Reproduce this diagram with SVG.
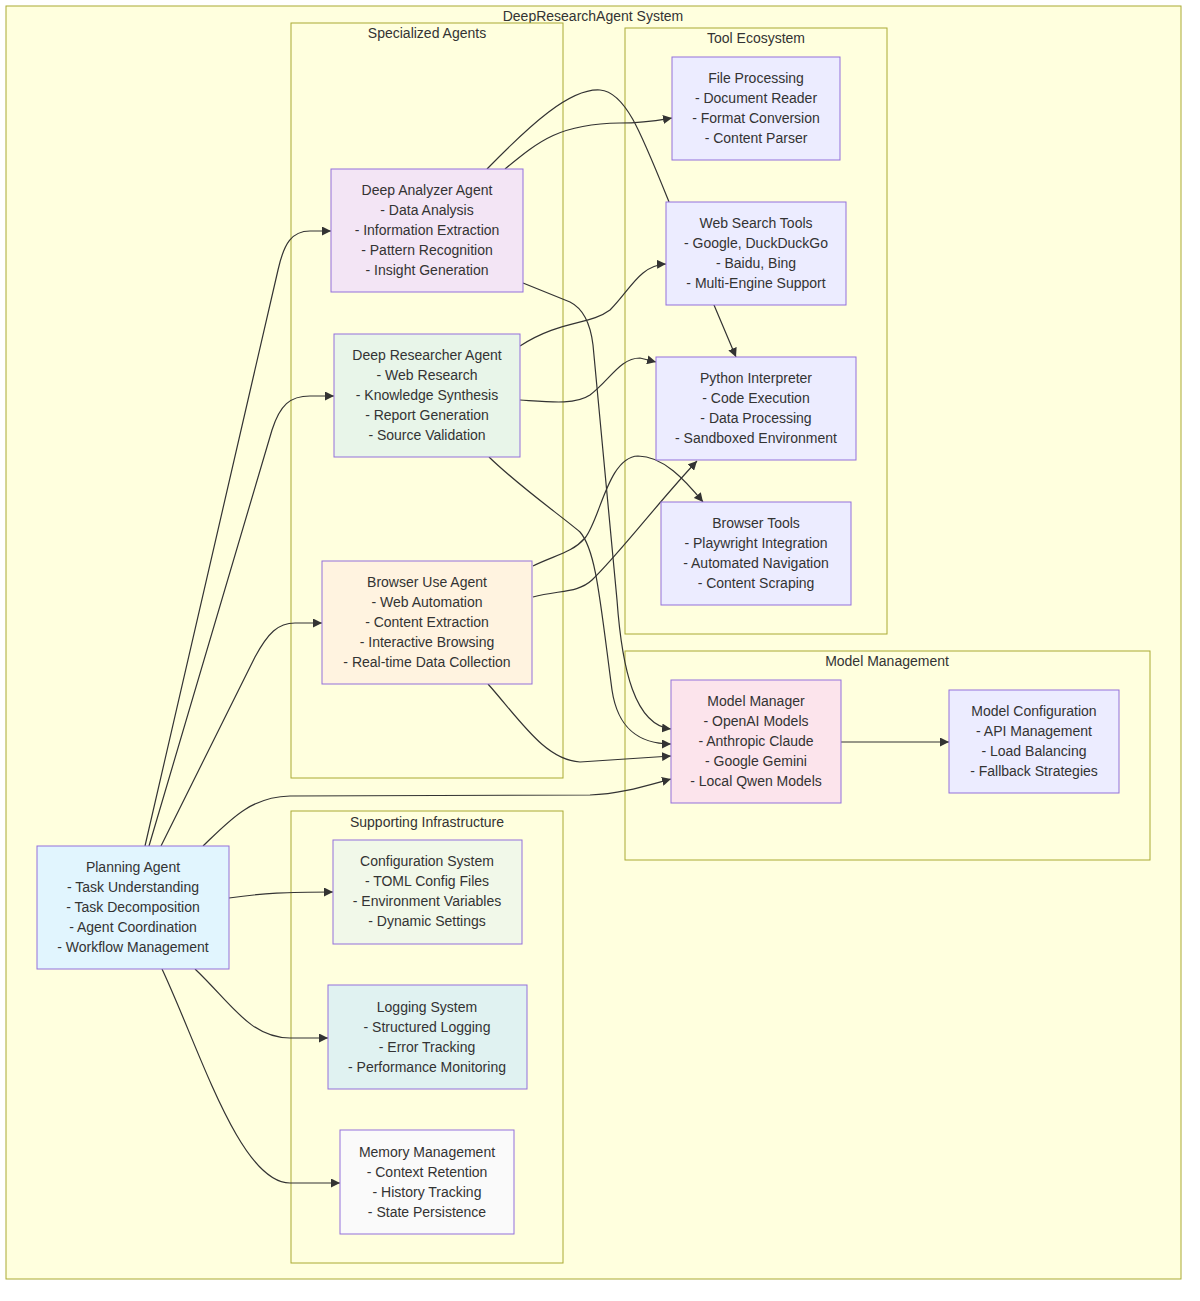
<svg xmlns="http://www.w3.org/2000/svg" width="1200" height="1301" viewBox="0 0 1200 1301">
<defs>
<marker id="arr" viewBox="0 0 10 10" refX="10" refY="5" markerWidth="9" markerHeight="9" markerUnits="userSpaceOnUse" orient="auto">
<path d="M0,0 L10,5 L0,10 z" fill="#333333"/>
</marker>
</defs>
<style>
.cl{fill:#ffffde;stroke:#aaaa33;stroke-width:1}
.nd{stroke:#9370db;stroke-width:1}
.def{fill:#ececff}
text{font-family:"Liberation Sans",Arial,sans-serif;font-size:14px;fill:#333333;text-anchor:middle;dominant-baseline:central}
.ea{fill:none;stroke:#333333;stroke-width:1.2;marker-end:url(#arr)}
</style>
<rect width="1200" height="1301" fill="#ffffff"/>
<g id="clusters">
<rect class="cl" x="6" y="6" width="1175" height="1273"/>
<text x="593" y="16">DeepResearchAgent System</text>
<rect class="cl" x="291" y="23" width="272" height="755"/>
<text x="427" y="33">Specialized Agents</text>
<rect class="cl" x="625" y="28" width="262" height="606"/>
<text x="756" y="38">Tool Ecosystem</text>
<rect class="cl" x="625" y="651" width="525" height="209"/>
<text x="887" y="661">Model Management</text>
<rect class="cl" x="291" y="811" width="272" height="452"/>
<text x="427" y="822">Supporting Infrastructure</text>
</g>
<g id="connectors">
<path class="ea" d="M145,846 L278,270 C284,243 292,231 310,231 L331,231"/>
<path class="ea" d="M149,846 L272,430 C280,405 290,396 310,396 L334,396"/>
<path class="ea" d="M161,846 L255,657 C268,633 278,623 295,623 L322,623"/>
<path class="ea" d="M203,846 C230,820 250,797 290,796 L590,795 C620,794 645,786 671,779"/>
<path class="ea" d="M229,898 C265,893 285,892 333,892"/>
<path class="ea" d="M195,969 C230,1002 250,1038 290,1038 L328,1038"/>
<path class="ea" d="M162,969 C200,1050 240,1183 290,1183 L340,1183"/>
<path class="ea" d="M505,169 C540,140 560,124 620,123 C645,123 660,120 672,118"/>
<path class="ea" d="M487,169 C530,125 570,88 600,90 C625,92 640,130 669,202 L714,305 L736,357"/>
<path class="ea" d="M523,283 L570,302 C582,308 590,320 593,345 L617,600 C622,670 635,725 671,729"/>
<path class="ea" d="M489,457 C520,487 560,515 580,532 C596,550 600,600 612,690 C618,730 640,744 671,744"/>
<path class="ea" d="M520,346 C560,320 590,325 610,310 C630,290 640,265 666,264"/>
<path class="ea" d="M520,400 C550,402 575,405 590,395 C610,380 620,358 640,358 L656,362"/>
<path class="ea" d="M533,566 C555,555 572,553 585,538 C600,520 608,457 638,456 C663,456 685,480 703,502"/>
<path class="ea" d="M533,597 C560,590 578,593 592,580 C620,553 660,500 697,461"/>
<path class="ea" d="M488,684 C520,720 545,760 580,762 L671,756"/>
<path class="ea" d="M841,742 L949,742"/>
</g>
<g id="deep-analyzer">
<rect class="nd" fill="#f3e5f5" x="331" y="169" width="192" height="123"/>
<text x="427" y="190">Deep Analyzer Agent</text>
<text x="427" y="210">- Data Analysis</text>
<text x="427" y="230">- Information Extraction</text>
<text x="427" y="250">- Pattern Recognition</text>
<text x="427" y="270">- Insight Generation</text>
</g>
<g id="deep-researcher">
<rect class="nd" fill="#e8f5e9" x="334" y="334" width="186" height="123"/>
<text x="427" y="355">Deep Researcher Agent</text>
<text x="427" y="375">- Web Research</text>
<text x="427" y="395">- Knowledge Synthesis</text>
<text x="427" y="415">- Report Generation</text>
<text x="427" y="435">- Source Validation</text>
</g>
<g id="browser-use">
<rect class="nd" fill="#fff3e0" x="322" y="561" width="210" height="123"/>
<text x="427" y="582">Browser Use Agent</text>
<text x="427" y="602">- Web Automation</text>
<text x="427" y="622">- Content Extraction</text>
<text x="427" y="642">- Interactive Browsing</text>
<text x="427" y="662">- Real-time Data Collection</text>
</g>
<g id="file-processing">
<rect class="nd def" x="672" y="57" width="168" height="103"/>
<text x="756" y="78">File Processing</text>
<text x="756" y="98">- Document Reader</text>
<text x="756" y="118">- Format Conversion</text>
<text x="756" y="138">- Content Parser</text>
</g>
<g id="web-search">
<rect class="nd def" x="666" y="202" width="180" height="103"/>
<text x="756" y="223">Web Search Tools</text>
<text x="756" y="243">- Google, DuckDuckGo</text>
<text x="756" y="263">- Baidu, Bing</text>
<text x="756" y="283">- Multi-Engine Support</text>
</g>
<g id="python-interpreter">
<rect class="nd def" x="656" y="357" width="200" height="103"/>
<text x="756" y="378">Python Interpreter</text>
<text x="756" y="398">- Code Execution</text>
<text x="756" y="418">- Data Processing</text>
<text x="756" y="438">- Sandboxed Environment</text>
</g>
<g id="browser-tools">
<rect class="nd def" x="661" y="502" width="190" height="103"/>
<text x="756" y="523">Browser Tools</text>
<text x="756" y="543">- Playwright Integration</text>
<text x="756" y="563">- Automated Navigation</text>
<text x="756" y="583">- Content Scraping</text>
</g>
<g id="model-manager">
<rect class="nd" fill="#fce4ec" x="671" y="680" width="170" height="123"/>
<text x="756" y="701">Model Manager</text>
<text x="756" y="721">- OpenAI Models</text>
<text x="756" y="741">- Anthropic Claude</text>
<text x="756" y="761">- Google Gemini</text>
<text x="756" y="781">- Local Qwen Models</text>
</g>
<g id="model-configuration">
<rect class="nd def" x="949" y="690" width="170" height="103"/>
<text x="1034" y="711">Model Configuration</text>
<text x="1034" y="731">- API Management</text>
<text x="1034" y="751">- Load Balancing</text>
<text x="1034" y="771">- Fallback Strategies</text>
</g>
<g id="planning-agent">
<rect class="nd" fill="#e1f5fe" x="37" y="846" width="192" height="123"/>
<text x="133" y="867">Planning Agent</text>
<text x="133" y="887">- Task Understanding</text>
<text x="133" y="907">- Task Decomposition</text>
<text x="133" y="927">- Agent Coordination</text>
<text x="133" y="947">- Workflow Management</text>
</g>
<g id="configuration-system">
<rect class="nd" fill="#f1f8e9" x="333" y="840" width="189" height="104"/>
<text x="427" y="861">Configuration System</text>
<text x="427" y="881">- TOML Config Files</text>
<text x="427" y="901">- Environment Variables</text>
<text x="427" y="921">- Dynamic Settings</text>
</g>
<g id="logging-system">
<rect class="nd" fill="#e0f2f1" x="328" y="985" width="199" height="104"/>
<text x="427" y="1007">Logging System</text>
<text x="427" y="1027">- Structured Logging</text>
<text x="427" y="1047">- Error Tracking</text>
<text x="427" y="1067">- Performance Monitoring</text>
</g>
<g id="memory-management">
<rect class="nd" fill="#fafafa" x="340" y="1130" width="174" height="104"/>
<text x="427" y="1152">Memory Management</text>
<text x="427" y="1172">- Context Retention</text>
<text x="427" y="1192">- History Tracking</text>
<text x="427" y="1212">- State Persistence</text>
</g>
</svg>
